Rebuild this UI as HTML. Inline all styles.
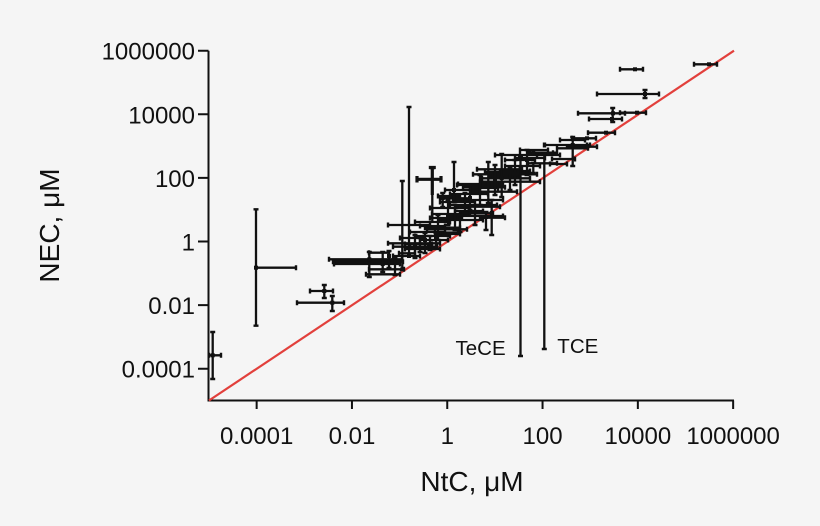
<!DOCTYPE html>
<html><head><meta charset="utf-8"><style>
html,body{margin:0;padding:0;background:#f5f5f5;}
svg{display:block;}
text{font-family:"Liberation Sans",Arial,sans-serif;fill:#111;}
</style></head><body>
<svg width="820" height="526" viewBox="0 0 820 526" xmlns="http://www.w3.org/2000/svg">
<rect width="820" height="526" fill="#f5f5f5"/>
<!-- axes -->
<g stroke="#111" stroke-width="2" fill="none">
<path d="M208.5 50.7 V401.5 M207.5 400.5 H734"/>
<path d="M198 50.7 H208.5 M198 114.3 H208.5 M198 177.9 H208.5 M198 241.5 H208.5 M198 305.1 H208.5 M198 368.7 H208.5"/>
<path d="M256.65 400.5 V409 M351.95 400.5 V409 M447.25 400.5 V409 M542.55 400.5 V409 M637.85 400.5 V409 M733.15 400.5 V409"/>
</g>
<g font-size="24" text-anchor="end">
<text x="195" y="59.7">1000000</text>
<text x="195" y="123.3">10000</text>
<text x="195" y="186.9">100</text>
<text x="195" y="250.5">1</text>
<text x="195" y="314.1">0.01</text>
<text x="195" y="377.7">0.0001</text>
</g>
<g font-size="24" text-anchor="middle">
<text x="256.65" y="444">0.0001</text>
<text x="351.95" y="444">0.01</text>
<text x="447.25" y="444">1</text>
<text x="542.55" y="444">100</text>
<text x="637.85" y="444">10000</text>
<text x="733.15" y="444">1000000</text>
</g>
<text x="472" y="491" font-size="28" text-anchor="middle">NtC, μM</text>
<text transform="translate(59,225.5) rotate(-90)" font-size="28" text-anchor="middle">NEC, μM</text>
<text x="455.5" y="355" font-size="20.5">TeCE</text>
<text x="557.3" y="353" font-size="20.5">TCE</text>

<!-- red identity line -->
<line x1="209" y1="400.5" x2="734" y2="50.7" stroke="#e2403c" stroke-width="2.2"/>

<!-- horizontal error bars -->
<g stroke="#111" stroke-width="2.3" fill="none">
<path d="
M209 355.3 H221 M256 267.7 H296 M310 291 H333 M297 302.7 H344
M329 259.3 H402 M333 261.7 H403 M334 264 H400 M369 252.7 H389 M369 269.3 H404 M366 274.3 H400
M393 256 H420 M388 243.3 H440 M393 246.7 H437 M388 225 H430 M399 253.3 H415
M425 227.7 H460 M427 229.3 H467 M457 185 H500 M463 187.3 H505 M438 196 H460 M440 198.3 H470
M450 205 H497 M457 206.7 H500 M455 211 H483 M460 213.3 H493 M480 217.7 H505 M448 216 H503
M440 220 H483 M453 200 H503 M470 191.7 H517 M458 184 H503 M480 181.7 H540 M482 178.3 H530
M473 174.3 H537 M477 169.3 H522 M495 155 H537 M530 152.7 H557 M545 145 H587 M528 163.3 H557
M620 69.3 H643 M694 64.3 H717 M597 94 H659 M578 113.3 H625 M620 112.7 H646 M589 119 H622
M588 132.7 H615 M572 138.3 H596 M567 146.7 H597 M557 148.3 H588 M552 159 H575 M550 164 H567
M410 232 H445 M415 236 H450 M420 240 H448 M405 249 H440 M415 222 H450 M430 208 H470 M445 190 H480
M500 171 H530 M505 166 H540 M544 145 H590 M529 152.7 H553 M520 155 H560
M435 232.5 H458 M420 226 H445 M430 218 H462 M432 214 H470 M440 202 H475 M450 194 H488
M470 188 H498 M490 176 H520 M485 172 H528 M505 160 H535 M515 158 H545 M520 150 H548
M560 140 H585 M440 234 H460 M405 244 H432 M410 247 H428 M400 238 H425
"/>
<path stroke-width="2.4" d="
M209 352.8 v5 M221 352.8 v5 M296 265.2 v5 M310 288.5 v5 M333 288.5 v5 M297 300.2 v5 M344 300.2 v5
M329 256.8 v5 M402 256.8 v5 M333 259.2 v5 M403 259.2 v5 M334 261.5 v5 M400 261.5 v5 M369 250.2 v5 M389 250.2 v5
M369 266.8 v5 M404 266.8 v5 M366 271.8 v5 M400 271.8 v5 M393 253.5 v5 M420 253.5 v5 M388 240.8 v5 M440 240.8 v5
M393 244.2 v5 M437 244.2 v5 M388 222.5 v5 M430 222.5 v5 M399 250.8 v5 M415 250.8 v5
M425 225.2 v5 M460 225.2 v5 M427 226.8 v5 M467 226.8 v5 M457 182.5 v5 M500 182.5 v5 M463 184.8 v5 M505 184.8 v5
M438 193.5 v5 M460 193.5 v5 M440 195.8 v5 M470 195.8 v5 M450 202.5 v5 M497 202.5 v5 M457 204.2 v5 M500 204.2 v5
M455 208.5 v5 M483 208.5 v5 M460 210.8 v5 M493 210.8 v5 M480 215.2 v5 M505 215.2 v5 M448 213.5 v5 M503 213.5 v5
M440 217.5 v5 M483 217.5 v5 M453 197.5 v5 M503 197.5 v5 M470 189.2 v5 M517 189.2 v5 M458 181.5 v5 M503 181.5 v5
M480 179.2 v5 M540 179.2 v5 M482 175.8 v5 M530 175.8 v5 M473 171.8 v5 M537 171.8 v5 M477 166.8 v5 M522 166.8 v5
M495 152.5 v5 M537 152.5 v5 M530 150.2 v5 M557 150.2 v5 M545 142.5 v5 M587 142.5 v5 M528 160.8 v5 M557 160.8 v5
M620 66.8 v5 M643 66.8 v5 M694 61.8 v5 M717 61.8 v5 M597 91.5 v5 M659 91.5 v5 M578 110.8 v5 M625 110.8 v5
M620 110.2 v5 M646 110.2 v5 M589 116.5 v5 M622 116.5 v5 M588 130.2 v5 M615 130.2 v5 M572 135.8 v5 M596 135.8 v5
M567 144.2 v5 M597 144.2 v5 M557 145.8 v5 M588 145.8 v5 M552 156.5 v5 M575 156.5 v5 M550 161.5 v5 M567 161.5 v5
M410 229.5 v5 M445 229.5 v5 M415 233.5 v5 M450 233.5 v5 M420 237.5 v5 M448 237.5 v5 M405 246.5 v5 M440 246.5 v5
M415 219.5 v5 M450 219.5 v5 M430 205.5 v5 M470 205.5 v5 M445 187.5 v5 M480 187.5 v5 M500 168.5 v5 M530 168.5 v5
M505 163.5 v5 M540 163.5 v5 M544 142.5 v5 M590 142.5 v5 M529 150.2 v5 M553 150.2 v5 M520 152.5 v5 M560 152.5 v5
M435 230 v5 M458 230 v5 M420 223.5 v5 M445 223.5 v5 M430 215.5 v5 M462 215.5 v5 M432 211.5 v5 M470 211.5 v5
M440 199.5 v5 M475 199.5 v5 M450 191.5 v5 M488 191.5 v5 M470 185.5 v5 M498 185.5 v5 M490 173.5 v5 M520 173.5 v5
M485 169.5 v5 M528 169.5 v5 M505 157.5 v5 M535 157.5 v5 M515 155.5 v5 M545 155.5 v5 M520 147.5 v5 M548 147.5 v5
M560 137.5 v5 M585 137.5 v5 M440 231.5 v5 M460 231.5 v5 M405 241.5 v5 M432 241.5 v5 M410 244.5 v5 M428 244.5 v5
M400 235.5 v5 M425 235.5 v5
"/>
</g>

<!-- vertical error bars -->
<g stroke="#111" stroke-width="2.3" fill="none">
<path d="
M212.7 332 V379 M256 209.3 V325.7 M324.3 285 V298 M332.3 296 V311 M409 107 V257 M402.3 181 V270
M432.3 168 V223 M369.3 252 V277 M382.7 252 V272 M389 251 V268 M454 162 V202 M488.3 162 V203
M501.7 154 V197 M520.5 156 V356 M544.3 153 V349 M533.3 163 V173 M491.7 200 V235 M486 212 V230
M442.7 193 V207 M465 193 V213 M645 90 V98 M612.7 108 V122 M572.7 137 V166 M425 233 V253
M430 236 V250 M436 233 V247 M420 238 V252 M475 205 V225 M510 168 V190 M460 215 V232 M395 258 V275
M448 200 V225 M470 185 V210 M480 175 V205 M495 165 V195 M515 160 V185 M527 150 V175 M438 215 V240
M415 235 V258 M455 205 V230
"/>
<path stroke-width="2.4" d="
M210.2 332 h5 M210.2 379 h5 M253.5 209.3 h5 M253.5 325.7 h5 M321.8 285 h5 M321.8 298 h5 M329.8 296 h5 M329.8 311 h5
M406.5 107 h5 M399.8 181 h5 M399.8 270 h5 M429.8 168 h5 M366.8 252 h5 M366.8 277 h5 M380.2 252 h5 M380.2 272 h5
M386.5 251 h5 M386.5 268 h5 M451.5 162 h5 M451.5 202 h5 M485.8 162 h5 M485.8 203 h5 M499.2 154 h5 M499.2 197 h5
M518 156 h5 M518 356 h5 M541.8 153 h5 M541.8 349 h5 M530.8 163 h5 M530.8 173 h5 M489.2 200 h5 M489.2 235 h5
M483.5 212 h5 M483.5 230 h5 M440.2 193 h5 M440.2 207 h5 M462.5 193 h5 M462.5 213 h5 M642.5 90 h5 M642.5 98 h5
M610.2 108 h5 M610.2 122 h5 M570.2 137 h5 M570.2 166 h5 M422.5 233 h5 M422.5 253 h5 M427.5 236 h5 M427.5 250 h5
M433.5 233 h5 M433.5 247 h5 M417.5 238 h5 M417.5 252 h5 M472.5 205 h5 M472.5 225 h5 M507.5 168 h5 M507.5 190 h5
M457.5 215 h5 M457.5 232 h5 M392.5 258 h5 M392.5 275 h5
M445.5 200 h5 M445.5 225 h5 M467.5 185 h5 M467.5 210 h5 M477.5 175 h5 M477.5 205 h5 M492.5 165 h5 M492.5 195 h5
M512.5 160 h5 M512.5 185 h5 M524.5 150 h5 M524.5 175 h5 M435.5 215 h5 M435.5 240 h5 M412.5 235 h5 M412.5 258 h5
M452.5 205 h5 M452.5 230 h5
"/>
<!-- bold cross -->
<path stroke-width="3.2" d="M417 179.3 H441 M432.3 167 V195 M417 176 v6.5 M441 176 v6.5 M428.8 167.5 h7"/>
</g>

<!-- points -->
<g fill="#111">
<rect x="210.7" y="353.3" width="4" height="4"/>
<rect x="254" y="265.7" width="4" height="4"/>
<rect x="322.3" y="289" width="4" height="4"/>
<rect x="330.3" y="300.7" width="4" height="4"/>
<rect x="633" y="67.3" width="4" height="4"/>
<rect x="707" y="62.3" width="4" height="4"/>
<rect x="643" y="92" width="4" height="4"/>
<rect x="611" y="111.3" width="4" height="4"/>
<rect x="635" y="110.7" width="4" height="4"/>
<rect x="610" y="117" width="4" height="4"/>
<rect x="604" y="130.7" width="4" height="4"/>
<rect x="585" y="136.3" width="4" height="4"/>
<rect x="367.3" y="257.3" width="4" height="4"/>
<rect x="380.7" y="262" width="4" height="4"/>
<rect x="387" y="254" width="4" height="4"/>
<rect x="400.3" y="267.3" width="4" height="4"/>
<rect x="407" y="254" width="4" height="4"/>
<rect x="423" y="238" width="4" height="4"/>
<rect x="434" y="236" width="4" height="4"/>
<rect x="440.7" y="196" width="4" height="4"/>
<rect x="463" y="204" width="4" height="4"/>
<rect x="484" y="215" width="4" height="4"/>
<rect x="489.7" y="211" width="4" height="4"/>
<rect x="486.3" y="182" width="4" height="4"/>
<rect x="499.7" y="176" width="4" height="4"/>
<rect x="508" y="170" width="4" height="4"/>
<rect x="518.5" y="165" width="4" height="4"/>
<rect x="531.3" y="150.7" width="4" height="4"/>
<rect x="542.3" y="152" width="4" height="4"/>
<rect x="570.7" y="143" width="4" height="4"/>
<rect x="452" y="188" width="4" height="4"/>
<rect x="473" y="210" width="4" height="4"/>
<rect x="446" y="214" width="4" height="4"/>
<rect x="436" y="226" width="4" height="4"/>
<rect x="468" y="196" width="4" height="4"/>
<rect x="493" y="178" width="4" height="4"/>
<rect x="513" y="172" width="4" height="4"/>
<rect x="525" y="158" width="4" height="4"/>
<rect x="413" y="244" width="4" height="4"/>
</g>
</svg>
</body></html>
